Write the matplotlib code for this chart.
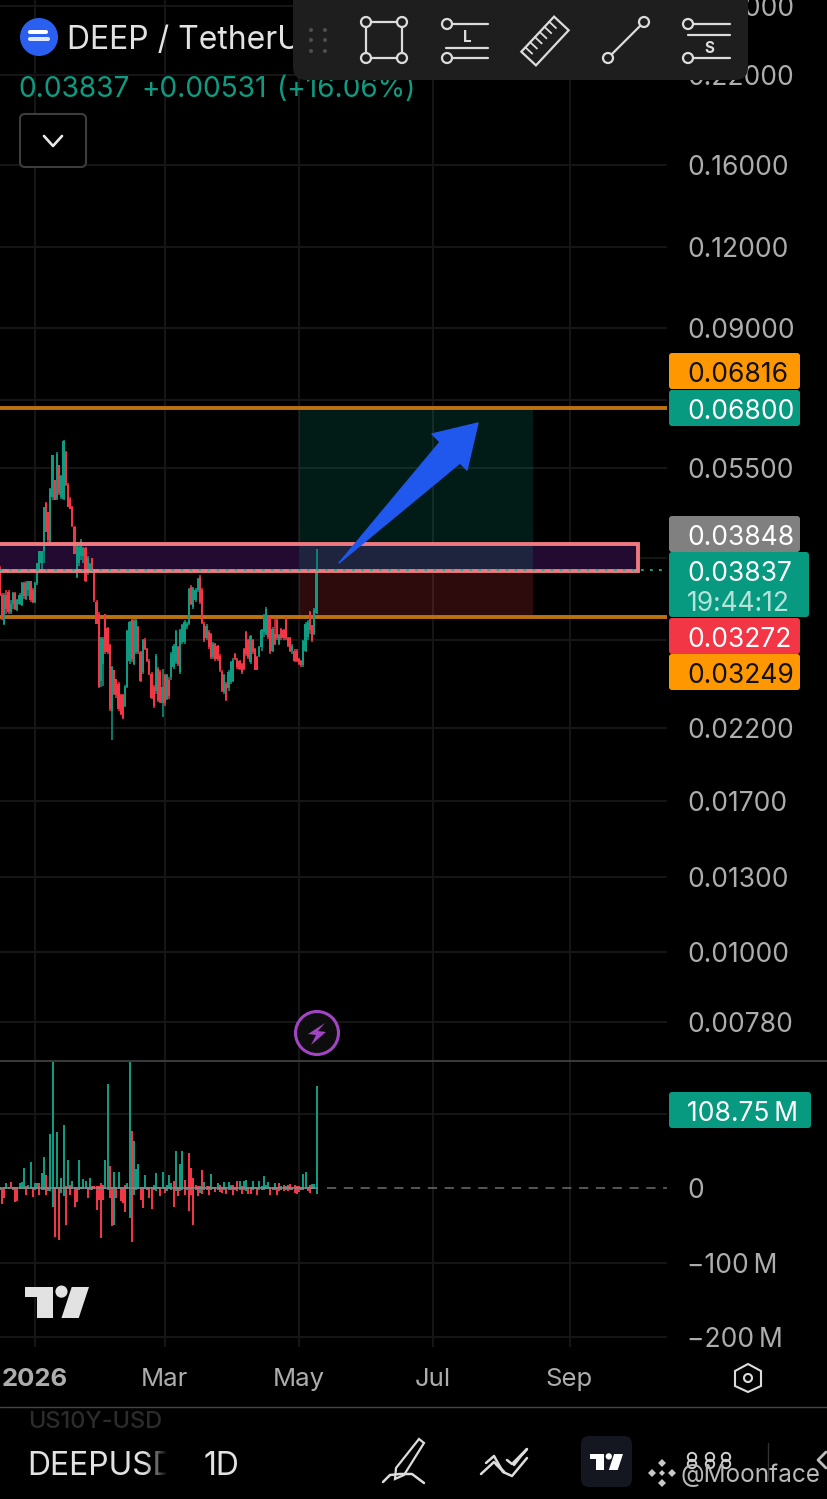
import matplotlib
matplotlib.use("Agg")
import matplotlib.pyplot as plt
from matplotlib.patches import Rectangle, FancyBboxPatch, Circle, Polygon
from matplotlib.ticker import NullFormatter, NullLocator
import matplotlib.transforms as mtrans
import numpy as np

W, H = 828, 1499
plt.rcParams['font.family'] = ['Inter', 'DejaVu Sans']

first_day = -16
opens = [.0386,.0352,.0318,.0352,.0356,.0331,.0341,.0354,.0333,.0341,
 .0339,.0367,.0347,.0358,.0370,.0358,.0343,.0367,.0386,.0393,
 .0410,.0486,.0471,.0424,.0497,.0527,.0494,.0556,.0497,.0494,
 .0582,.0518,.0494,.0480,.0447,.0375,.0393,.0403,.0403,.0415,
 .0380,.0384,.0400,.0384,.0343,.0329,.0260,.0276,.0329,.0313,
 .0295,.0234,.0270,.0262,.0257,.0247,.0247,.0238,.0254,.0279,
 .0322,.0276,.0288,.0314,.0288,.0268,.0300,.0291,.0279,.0266,
 .0254,.0251,.0271,.0268,.0240,.0265,.0244,.0261,.0263,.0273,
 .0278,.0293,.0268,.0298,.0298,.0314,.0318,.0362,.0337,.0345,
 .0358,.0375,.0358,.0318,.0302,.0309,.0307,.0283,.0296,.0294,
 .0284,.0268,.0250,.0257,.0253,.0259,.0260,.0286,.0281,.0279,
 .0276,.0291,.0309,.0300,.0278,.0300,.0291,.0283,.0284,.0293,
 .0309,.0307,.0327,.0326,.0289,.0307,.0322,.0296,.0312,.0311,
 .0325,.0302,.0302,.0289,.0289,.0289,.0281,.0279,.0275,.0289,
 .0303,.0331,.0316,.0307,.03306]
highs = [.0389,.0354,.0354,.0358,.0358,.0345,.0356,.0356,.0347,.0354,
 .0368,.0368,.0369,.0370,.0370,.0360,.0368,.0394,.0411,.0411,
 .0480,.0488,.0471,.0512,.0577,.0528,.0582,.0556,.0537,.0607,
 .0584,.0521,.0497,.0481,.0448,.0421,.0421,.0428,.0417,.0417,
 .0403,.0394,.0401,.0386,.0345,.0331,.0303,.0303,.0329,.0314,
 .0296,.0274,.0270,.0262,.0259,.0248,.0248,.0256,.0311,.0321,
 .0323,.0323,.0323,.0315,.0289,.0301,.0302,.0292,.0281,.0268,
 .0256,.0286,.0273,.0270,.0271,.0266,.0266,.0263,.0288,.0296,
 .0311,.0294,.0312,.0318,.0322,.0320,.0361,.0364,.0362,.0360,
 .0374,.0377,.0360,.0320,.0317,.0311,.0308,.0298,.0297,.0295,
 .0286,.0270,.0266,.0259,.0270,.0279,.0282,.0287,.0282,.0280,
 .0277,.0292,.0310,.0301,.0305,.0301,.0292,.0284,.0294,.0312,
 .0329,.0337,.0328,.0326,.0314,.0325,.0323,.0307,.0313,.0312,
 .0326,.0303,.0303,.0296,.0291,.0291,.0282,.0280,.0300,.0320,
 .0322,.0332,.0316,.0336,.0413]
lows = [.0350,.0322,.0316,.0329,.0329,.0329,.0335,.0333,.0332,.0339,
 .0338,.0347,.0345,.0350,.0343,.0342,.0342,.0364,.0380,.0386,
 .0393,.0439,.0424,.0423,.0491,.0491,.0491,.0501,.0494,.0491,
 .0516,.0479,.0476,.0447,.0407,.0373,.0389,.0398,.0393,.0368,
 .0378,.0380,.0383,.0343,.0317,.0253,.0254,.0255,.0286,.0286,
 .0234,.0211,.0247,.0245,.0234,.0230,.0227,.0237,.0253,.0276,
 .0278,.0275,.0286,.0286,.0259,.0266,.0290,.0278,.0265,.0244,
 .0236,.0248,.0241,.0240,.0229,.0238,.0243,.0244,.0261,.0271,
 .0276,.0274,.0266,.0296,.0296,.0312,.0316,.0339,.0335,.0343,
 .0356,.0341,.0317,.0298,.0300,.0291,.0281,.0281,.0279,.0279,
 .0268,.0250,.0248,.0242,.0251,.0257,.0259,.0280,.0271,.0270,
 .0266,.0270,.0284,.0281,.0276,.0286,.0270,.0270,.0283,.0289,
 .0303,.0305,.0301,.0286,.0288,.0295,.0300,.0295,.0300,.0300,
 .0300,.0293,.0288,.0286,.0278,.0278,.0275,.0273,.0273,.0288,
 .0300,.0307,.0298,.0305,.0329]
closes = [.0352,.0326,.0352,.0335,.0331,.0341,.0354,.0335,.0345,.0352,
 .0367,.0350,.0367,.0369,.0345,.0343,.0367,.0393,.0410,.0410,
 .0479,.0439,.0427,.0511,.0576,.0492,.0579,.0503,.0535,.0606,
 .0518,.0480,.0477,.0448,.0407,.0418,.0417,.0426,.0415,.0369,
 .0401,.0392,.0384,.0345,.0318,.0254,.0302,.0301,.0288,.0288,
 .0235,.0273,.0248,.0247,.0235,.0231,.0228,.0254,.0310,.0320,
 .0281,.0321,.0322,.0288,.0260,.0300,.0291,.0279,.0266,.0245,
 .0238,.0284,.0243,.0241,.0254,.0240,.0265,.0246,.0286,.0294,
 .0310,.0276,.0311,.0316,.0320,.0318,.0359,.0341,.0360,.0358,
 .0372,.0343,.0319,.0300,.0315,.0293,.0283,.0296,.0281,.0281,
 .0270,.0251,.0265,.0243,.0268,.0278,.0280,.0281,.0273,.0271,
 .0268,.0271,.0286,.0283,.0304,.0288,.0270,.0270,.0293,.0311,
 .0327,.0335,.0303,.0288,.0312,.0296,.0302,.0305,.0302,.0302,
 .0302,.0294,.0289,.0294,.0279,.0279,.0276,.0275,.0299,.0318,
 .0320,.0311,.0300,.0334,.03837]

vol_pos = [1,.5,2,7,1,8,2,1,1,7, 8,27,3,4,35,1,7,7,7,20,
 42,17,1,72,169,2,75,1,13,85, 3,38,4,10,1,1,38,2,12,10,
 2,14,3,3,3,3,7,4,38,140, 30,1,22,1,21,1,1,4,7,169,
 77,63,25,32,1,2,17,2,1,1, 4,20,1,1,21,2,4,17,7,9,
 50,1,32,50,11,2,47,27,13,4, 3,3,24,8,3,3,19,2,1,7,
 4,1,8,1,8,4,4,1,9,10, 3,9,11,2,2,10,1,1,9,3,
 16,4,8,2,1,7,2,7,3,4, 3,4,5,2,4,3,3,2,19,21, 2,4,5,5,137]
vol_neg = [2,21,13,1,1,.5,2,19,18,1, 1,1,9,1,1,12,2,1,9,3,
 2,10,4,4,26,66,1,70,7,11, 50,1,9,1,25,19,2,1,1,1,
 13,2,2,1,29,16,67,16,1,2, 13,51,50,13,1,18,20,32,1,40,
 72,10,2,1,16,27,1,2,13,28, 2,4,1,11,1,7,4,1,2,25,
 4,11,4,2,10,2,31,10,50,2, 11,7,8,2,2,9,2,1,6,2,
 6,7,2,8,2,2,9,2,4,2, 8,2,4,8,8,2,1,10,2,2,
 2,1,1,9,2,2,10,4,2,4, 2,4,2,2,7,8,6,2,2,1, 4,7,1,1,8]
vol_dir = ("grrggrrrrg" "ggrggrggrg" "grgggrgrgg" "rgrgrrgggg" "rgrrrrrrgg"
           "rrgrgrrrgg" "rgggrrgrrr" "ggrrgrgggr" "grggrgrrrr" "rgrgrrggrg"
           "rrgrggrrrg" "rggrrggrgg" "gggrrgrrgr" "grrgrrrrgg" "rrggg")

price_ticks = [0.28, 0.22, 0.16, 0.12, 0.09, 0.055, 0.022, 0.017, 0.013, 0.01, 0.0078]
price_tick_labels = ['0.28000','0.22000','0.16000','0.12000','0.09000','0.05500',
                     '0.02200','0.01700','0.01300','0.01000','0.00780']
hidden_grid_prices = [0.07, 0.04, 0.03]
month_days = [0, 59, 120, 181, 243]
month_labels = ['2026', 'Mar', 'May', 'Jul', 'Sep']
vol_ticks = [100, 0, -100, -200]
vol_tick_labels = ['', '0', '\u2212100\u2009M', '\u2212200\u2009M']

target_price = 0.0680
entry_price = 0.03837
stop_price = 0.03249
zone_top = 0.04206
zone_bottom = 0.03825
position_days = (120, 226.4)
zone_end_day = 274

UP, DOWN = '#0e9b82', '#f23645'
GRID = '#161616'
TICKTXT = '#adadad'
LAB = 19

fig = plt.figure(figsize=(W/100, H/100), dpi=100, facecolor='black')
def axpx(x0, y0, x1, y1, **kw):
    return fig.add_axes([x0/W, 1-y1/H, (x1-x0)/W, (y1-y0)/H], **kw)

# ---------- price pane
ax = axpx(0, 0, 667, 1060, facecolor='black')
ax.set_yscale('log')
ax.set_ylim(0.00683, 0.2863)
ax.set_xlim(-15.9, 287.3)
ax.yaxis.tick_right()
ax.yaxis.set_minor_locator(NullLocator())
ax.yaxis.set_minor_formatter(NullFormatter())
ax.set_yticks(price_ticks, price_tick_labels)
ax.tick_params(axis='y', length=0, pad=14.5, labelsize=LAB, labelcolor=TICKTXT)
ax.set_xticks(month_days, [''] * 5)
ax.tick_params(axis='x', length=0)
for s in ax.spines.values():
    s.set_visible(False)
for p in price_ticks + hidden_grid_prices:
    ax.axhline(p, color=GRID, lw=1.4, zorder=1)
for d in month_days:
    ax.axvline(d, color=GRID, lw=1.4, zorder=1)

ax.add_patch(Rectangle((-30, zone_bottom), zone_end_day + 30, zone_top - zone_bottom,
                       fc='#230a30', ec='none', zorder=2))
ax.fill_between(position_days, entry_price, target_price, color='#089981', alpha=.18, lw=0, zorder=3)
ax.fill_between(position_days, stop_price, entry_price, color='#f23645', alpha=.19, lw=0, zorder=3)
ax.axhline(target_price, color='#bd7210', lw=2.8, zorder=4)
ax.axhline(stop_price, color='#bd7210', lw=2.8, zorder=4)

days = np.arange(first_day, first_day + len(opens))
o, h, l, c = map(np.array, (opens, highs, lows, closes))
cols = [UP if b >= a else DOWN for a, b in zip(o, c)]
ax.vlines(days, l, h, colors=cols, lw=1.1, zorder=5)
ax.bar(days, np.abs(c - o), bottom=np.minimum(o, c), width=1.0, color=cols, lw=0, zorder=5)

ax.add_patch(Rectangle((-30, zone_bottom), zone_end_day + 30, zone_top - zone_bottom,
                       fc='none', ec='#f0787f', lw=2.8, zorder=6))
ax.axhline(entry_price, color='#17b394', lw=1.3, ls=(0, (1.5, 3.5)), zorder=7)

# ---------- lower pane
av = axpx(0, 1061, 667, 1347, facecolor='black')
av.set_xlim(-15.9, 287.3)
av.set_ylim(-213.4, 170.5)
av.yaxis.tick_right()
av.set_yticks(vol_ticks, vol_tick_labels)
av.tick_params(axis='y', length=0, pad=14.5, labelsize=LAB, labelcolor=TICKTXT)
av.set_xticks(month_days, month_labels)
av.tick_params(axis='x', length=0, pad=15, labelsize=18.5, labelcolor=TICKTXT)
av.get_xticklabels()[0].set_fontweight('bold')
for s in av.spines.values():
    s.set_visible(False)
for v in vol_ticks[0:1] + vol_ticks[2:]:
    av.axhline(v, color=GRID, lw=1.4, zorder=1)
for d in month_days:
    av.axvline(d, color=GRID, lw=1.4, zorder=1)
vcols = [UP if k == 'g' else DOWN for k in vol_dir]
av.bar(days, vol_pos, width=0.95, color=vcols, lw=0, zorder=3)
av.bar(days, -np.array(vol_neg), width=0.95, color=vcols, lw=0, zorder=3)
av.plot([days[0] - 1, days[-1]], [0, 0], color='#8a8a8a', lw=1.1, zorder=4)
av.plot([132.7, 287.3], [0, 0], color='#6e6e6e', lw=1.1, ls=(0, (6, 5)), zorder=2)

# ---------- chrome overlay (pixel space)
ui = fig.add_axes([0, 0, 1, 1], facecolor='none', zorder=10)
ui.set_xlim(0, W); ui.set_ylim(H, 0); ui.axis('off')

def T(x, y, s, size=19, color='#ddd', ha='left', va='center_baseline', **kw):
    return ui.text(x, y, s, fontsize=size, color=color, ha=ha, va=va, **kw)
def box(x0, y0, x1, y1, fc, r=3, ec='none', lw=0, z=2):
    ui.add_patch(FancyBboxPatch((x0 + r, y0 + r), x1 - x0 - 2*r, y1 - y0 - 2*r,
                                boxstyle=f'round,pad={r},rounding_size={r}', fc=fc, ec=ec, lw=lw, zorder=z))
def L(xs, ys, color='#dcdcdc', lw=1.6, z=6, **kw):
    ui.plot(xs, ys, color=color, lw=lw, zorder=z, solid_capstyle='round', **kw)
def dot(x, y, r=5, ec='#dcdcdc', fc='#1e1e1e', lw=1.6, z=7):
    ui.add_patch(Circle((x, y), r, fc=fc, ec=ec, lw=lw, zorder=z))

# pane separators
L([0, W], [1060.5, 1060.5], color='#454545', lw=1.2, z=1)
L([0, W], [1407, 1407], color='#454545', lw=1, z=1)

# blue arrow
ui.add_patch(Polygon([(339, 563), (440, 442), (432, 434), (478, 423), (467, 470), (460, 463)],
                     closed=True, fc='#2057ec', ec='#2057ec', lw=1, zorder=3, joinstyle='round'))

# header
ui.add_patch(Circle((39, 37), 19, fc='#2a5ff0', ec='none', zorder=2))
ui.add_patch(FancyBboxPatch((28, 30), 20, 4, boxstyle='round,pad=0,rounding_size=2', fc='white', ec='none', zorder=3))
ui.add_patch(FancyBboxPatch((28, 37), 22, 4, boxstyle='round,pad=0,rounding_size=2', fc='#dfe8ff', ec='none', zorder=3))
T(67, 37, 'DEEP / TetherU', size=23, color='#e2e2e2')
T(18, 86, '0.03837', size=20.2, color='#0e9b82')
T(141, 86, '+0.00531', size=20.2, color='#0e9b82')
T(277, 86, '(+16.06%)', size=20.2, color='#0e9b82')
box(20, 114, 86, 167, 'black', r=5, ec='#3d3d3d', lw=1.5)
L([44, 53, 62], [136, 146, 136], color='#e8e8e8', lw=1.9)

# toolbar
box(293, -12, 748, 80, '#1e1e1e', r=13, z=5)
for gx in (311, 325):
    for gy in (30, 40, 51):
        ui.add_patch(Circle((gx, gy), 2, fc='#4e4e4e', ec='none', zorder=6))
L([366, 402, 402, 366, 366], [22, 22, 58, 58, 22])
for px, py in ((366, 22), (402, 22), (366, 58), (402, 58)):
    dot(px, py)
L([447, 488], [24, 24]); L([446, 488], [48, 48]); L([447, 488], [58, 58])
dot(447, 24); dot(447, 58)
T(467, 36, 'L', size=11, color='#dcdcdc', ha='center', weight='bold', zorder=7)
tr = mtrans.Affine2D().rotate_deg_around(545, 41, -47) + ui.transData
ui.add_patch(Rectangle((521, 31), 48, 20, fc='#1e1e1e', ec='#dcdcdc', lw=1.6, zorder=6, transform=tr))
for tx in range(527, 567, 7):
    ui.plot([tx, tx], [31, 40], color='#dcdcdc', lw=1.3, zorder=7, transform=tr)
L([644, 608], [22, 58]); dot(644, 22); dot(608, 58)
L([688, 730], [24, 24]); L([688, 730], [35, 35]); L([688, 730], [58, 58])
dot(688, 24); dot(688, 58)
T(709, 47, 'S', size=11, color='#dcdcdc', ha='center', weight='bold', zorder=7)

# price labels
def tag(y0, y1, fc, s, tc, x1=800):
    box(669, y0, x1, y1, fc, r=3)
    T(687, (y0 + y1)/2 + 1, s, color=tc)
tag(353, 389, '#ff9800', '0.06816', '#111111')
tag(390, 426, '#089981', '0.06800', 'white')
tag(516, 552, '#808080', '0.03848', 'white')
box(669, 552, 809, 617, '#089981', r=3, z=3)
T(687, 571, '0.03837', color='white', zorder=4)
T(687, 601, '19:44:12', color='#b5e3da', zorder=4)
tag(618, 654, '#f23645', '0.03272', 'white')
tag(654, 690, '#ff9800', '0.03249', '#111111')
tag(1092, 1128, '#089981', '108.75\u2009M', 'white', x1=811)

# lightning
ui.add_patch(Circle((317, 1033), 21.5, fc='#0d0d0d', ec='#a245c4', lw=2.2, zorder=3))
ui.add_patch(Polygon([(325, 1023), (308, 1034), (316, 1035), (311, 1045), (326, 1032), (318, 1031)],
                     closed=True, fc='#a245c4', ec='none', zorder=4))

# TV logos
def tv(x, y, w, h, color, z=4):
    P = lambda pts: ui.add_patch(Polygon([(x + a*w, y + b*h) for a, b in pts], closed=True, fc=color, ec='none', zorder=z))
    P([(0, .06), (.43, .06), (.43, 1), (.19, 1), (.19, .36), (0, .36)])
    ui.add_patch(Circle((x + .57*w, y + .2*h), .095*w, fc=color, ec='none', zorder=z))
    P([(.73, .06), (1, .06), (.84, 1), (.57, 1)])
tv(25, 1285, 64, 33, '#e2e2e2')

# hex settings icon
ui.add_patch(Polygon([(748, 1364), (761, 1371), (761, 1386), (748, 1392), (735, 1386), (735, 1371)],
                     closed=True, fc='none', ec='#dcdcdc', lw=1.5, zorder=4))
ui.add_patch(Circle((748, 1378), 4, fc='none', ec='#dcdcdc', lw=1.5, zorder=4))

# bottom bar
t = T(28, 1419, 'US10Y-USD', size=17, color='#2c2c2c', weight='medium')
t.set_clip_on(True); t.set_clip_path(Rectangle((0, 1408), 166, 30, transform=ui.transData))
t = T(27, 1463, 'DEEPUSDT', size=23, color='#e2e2e2')
t.set_clip_on(True); t.set_clip_path(Rectangle((0, 1440), 168, 50, transform=ui.transData))
for i, fx in enumerate(np.arange(146, 168, 2)):
    ui.add_patch(Rectangle((fx, 1442), 2, 44, fc='black', ec='none', alpha=(i + 1)/11, zorder=3))
T(204, 1463, '1D', size=23, color='#e2e2e2')
# pencil
ui.add_patch(Polygon([(419, 1439), (424, 1443), (404, 1475), (395, 1479), (396, 1468)], closed=True, fc='none', ec='#dcdcdc', lw=1.6, zorder=4))
L([383, 390, 400, 412, 424], [1482, 1475, 1474, 1474, 1483], lw=1.8)
# chevrons
L([481, 494, 504, 496], [1474, 1462, 1472, 1464], lw=1.8)
L([486, 494, 503, 512, 527], [1463, 1456, 1472, 1476, 1458], lw=1.8)
L([507, 512, 527, 521, 514], [1460, 1464, 1449, 1456, 1465], lw=1.8)
box(581, 1436, 632, 1487, '#141620', r=8)
tv(590, 1453, 33, 17, 'white')
for cx in (692, 710, 726):
    for cy in (1457, 1464):
        ui.add_patch(Circle((cx, cy), 4.2, fc='none', ec='#cfcfcf', lw=1.4, zorder=4))
L([768, 768], [1443, 1480], color='#333333', lw=1)
L([826, 818, 826], [1452, 1460, 1468], color='#bdbdbd', lw=2)
for dx, dy in ((0, -10), (-10, 0), (10, 0), (0, 10)):
    ui.add_patch(Polygon([(662 + dx, 1473 + dy - 4), (662 + dx + 4, 1473 + dy), (662 + dx, 1473 + dy + 4), (662 + dx - 4, 1473 + dy)],
                         closed=True, fc='#c8c8c8', ec='none', zorder=5))
ui.add_patch(Polygon([(662, 1470), (665, 1473), (662, 1476), (659, 1473)], closed=True, fc='#c8c8c8', ec='none', zorder=5))
T(681, 1473, '@Moonface', size=17.5, color='#b9b9b9', zorder=6)

fig.savefig('out.png', dpi=100, facecolor='black')
